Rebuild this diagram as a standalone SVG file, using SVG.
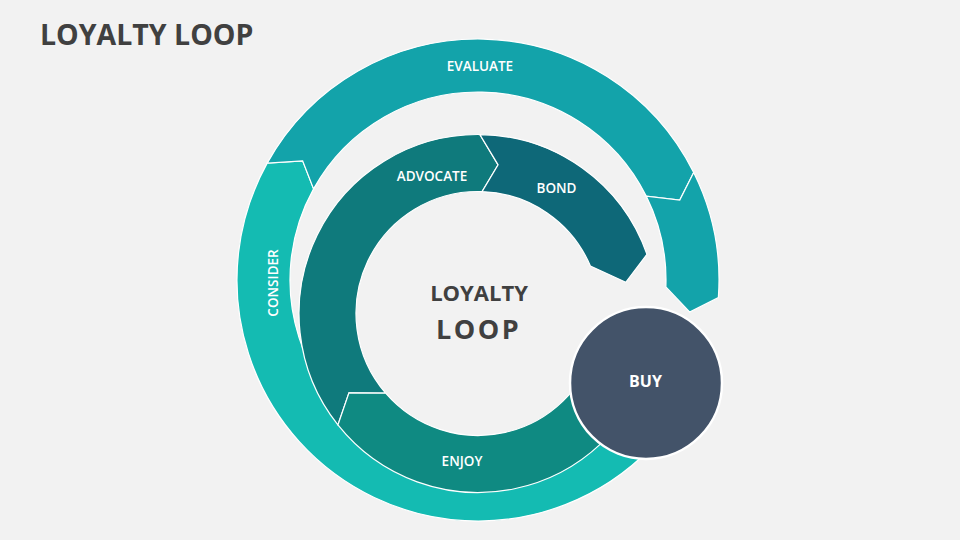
<svg xmlns="http://www.w3.org/2000/svg" width="960" height="540" viewBox="0 0 960 540">
  <style>
    .seg { stroke: #ffffff; stroke-width: 1.2; stroke-linejoin: miter; }
    .lbl { font-family: "Open Sans", "Liberation Sans", sans-serif; font-size: 13.5px; font-weight: 600; fill: #ffffff; text-anchor: middle; }
    .dark { font-family: "Open Sans", "Liberation Sans", sans-serif; font-weight: bold; fill: #404040; }
  </style>
  <rect x="0" y="0" width="960" height="540" fill="#f2f2f2"/>
  <text class="dark" x="40" y="45" font-size="28.5">LOYALTY LOOP</text>

  <g id="consider">
    <path class="seg" fill="#14BBB2" d="M701.45,370.28 A241,241 0 1 1 267.22,163.16 L302.66,160.84 L313.57,188.86 A188,188 0 1 0 652.31,350.43 Z"/>
    <text class="lbl" transform="translate(278,283) rotate(-90)" x="0" y="0">CONSIDER</text>
  </g>
  <g id="evaluate">
    <path class="seg" fill="#13A3AA" d="M267.22,163.16 A241,241 0 0 1 693.68,172.47 L679.76,200.12 L646.25,196.11 A188,188 0 0 0 313.57,188.86 L302.66,160.84 Z"/>
    <text class="lbl" x="480" y="70.5">EVALUATE</text>
  </g>
  <g id="evaluate-arrow">
    <path class="seg" fill="#13A3AA" d="M693.68,172.47 A241,241 0 0 1 718.35,297.65 L689.59,312 L665.87,286.89 A188,188 0 0 0 646.25,196.11 L679.76,200.12 Z"/>
  </g>

  <g id="advocate">
    <path class="seg" fill="#0F7A7C" d="M337.91,424.93 A179,179 0 0 1 479.87,134.53 L498.1,164.85 L482.05,191.57 A122,122 0 0 0 385.65,393.22 L348.96,392.88 Z"/>
    <text class="lbl" x="432" y="181">ADVOCATE</text>
  </g>
  <g id="bond">
    <path class="seg" fill="#0E6878" d="M479.87,134.53 A179,179 0 0 1 646.94,254.34 L625.75,282.36 L590.39,266.03 A122,122 0 0 0 482.05,191.57 L498.1,164.85 Z"/>
    <text class="lbl" x="556.5" y="193">BOND</text>
  </g>
  <g id="enjoy">
    <path class="seg" fill="#0F8A82" d="M650.9,359.83 A179,179 0 0 1 337.91,424.93 L348.96,392.88 L385.65,393.22 A122,122 0 0 0 595.84,345.08 Z"/>
    <text class="lbl" x="462" y="465.5">ENJOY</text>
  </g>

  <g id="buy">
    <circle cx="646" cy="383" r="76" fill="#435369" stroke="#ffffff" stroke-width="2.5"/>
    <text x="645.5" y="387" font-family="'Open Sans', 'Liberation Sans', sans-serif" font-weight="bold" font-size="16" fill="#ffffff" text-anchor="middle">BUY</text>
  </g>

  <g id="center-title">
    <text class="dark" x="479" y="300.5" font-size="22" text-anchor="middle">LOYALTY</text>
    <text class="dark" x="478.5" y="339" font-size="27" letter-spacing="2.5" text-anchor="middle">LOOP</text>
  </g>
</svg>
